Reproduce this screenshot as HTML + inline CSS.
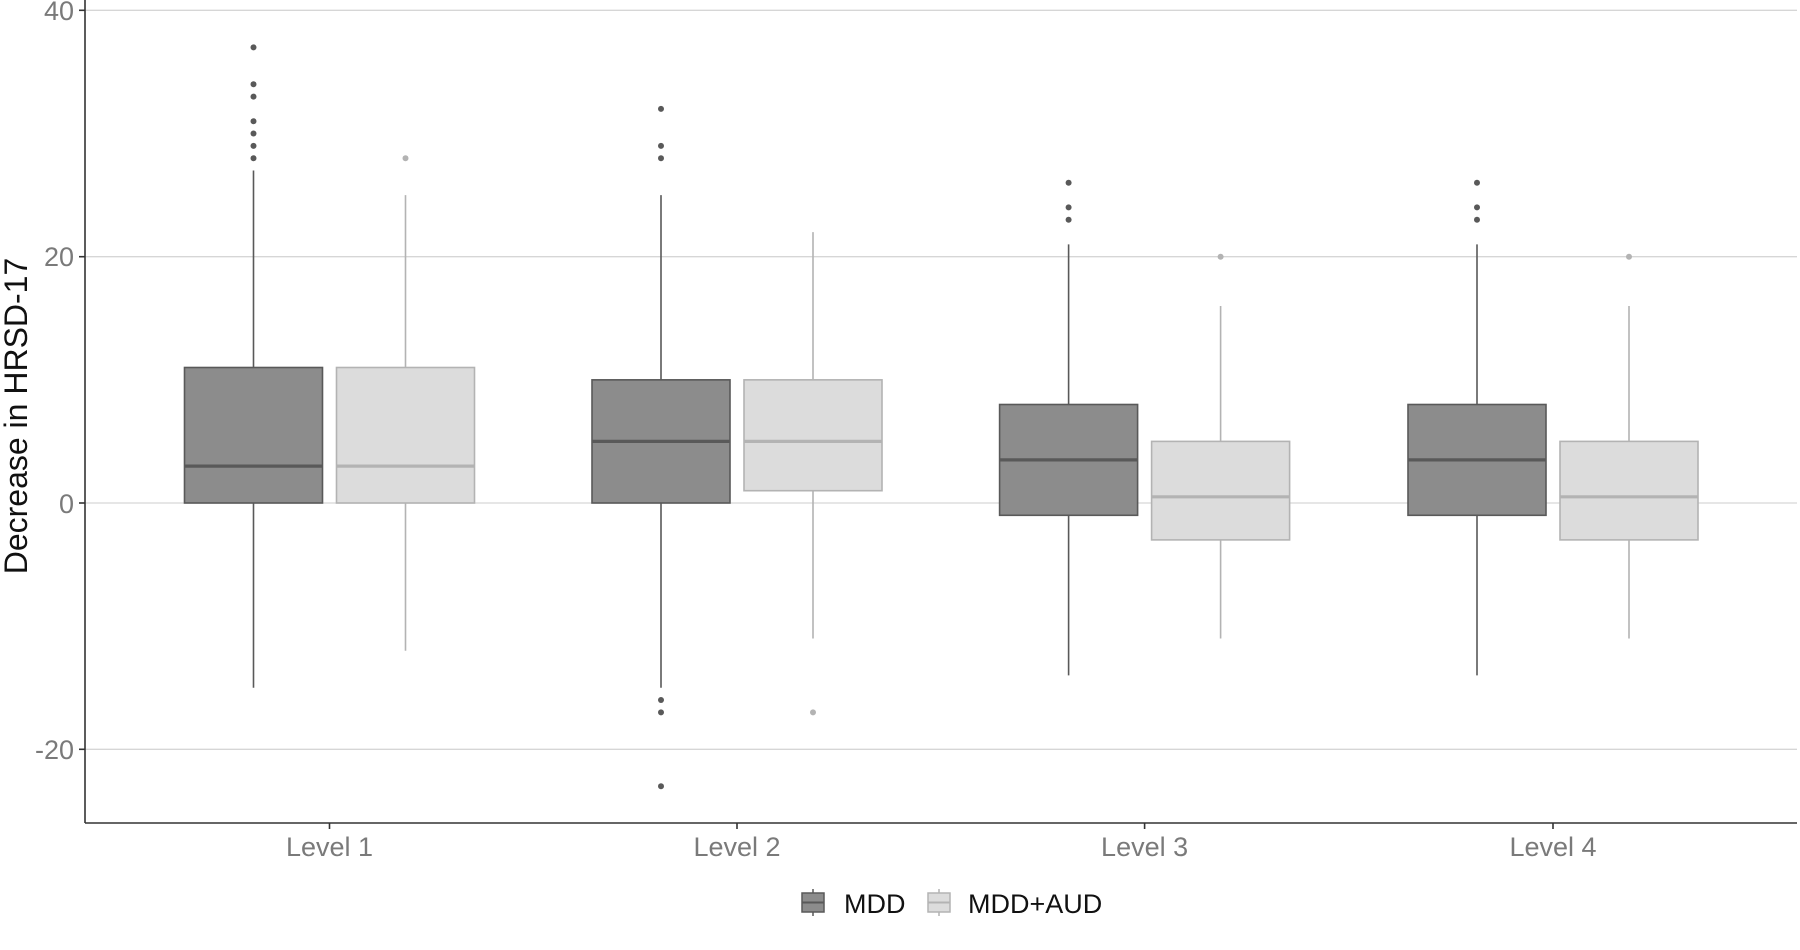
<!DOCTYPE html>
<html><head><meta charset="utf-8"><style>html,body{margin:0;padding:0;background:#fff}svg{display:block}</style></head>
<body>
<svg width="1800" height="950" xmlns="http://www.w3.org/2000/svg" font-family="Liberation Sans, sans-serif">
<g stroke="#d6d6d6" stroke-width="1.3">
<line x1="85" x2="1797" y1="10.3" y2="10.3"/>
<line x1="85" x2="1797" y1="256.7" y2="256.7"/>
<line x1="85" x2="1797" y1="503" y2="503"/>
<line x1="85" x2="1797" y1="749.3" y2="749.3"/>
</g>
<g stroke="#595959" stroke-width="1.6">
<line x1="253.5" x2="253.5" y1="170.5" y2="687.7"/>
<rect x="184.5" y="367.5" width="138" height="135.5" fill="#8c8c8c"/>
<line x1="184.5" x2="322.5" y1="466.1" y2="466.1" stroke-width="3.2"/>
</g>
<g fill="#595959"><circle cx="253.5" cy="47.35" r="3"/><circle cx="253.5" cy="84.3" r="3"/><circle cx="253.5" cy="96.6" r="3"/><circle cx="253.5" cy="121.2" r="3"/><circle cx="253.5" cy="133.55" r="3"/><circle cx="253.5" cy="145.9" r="3"/><circle cx="253.5" cy="158.2" r="3"/></g>
<g stroke="#b3b3b3" stroke-width="1.6">
<line x1="405.5" x2="405.5" y1="195.1" y2="650.8"/>
<rect x="336.5" y="367.5" width="138" height="135.5" fill="#dcdcdc"/>
<line x1="336.5" x2="474.5" y1="466.1" y2="466.1" stroke-width="3.2"/>
</g>
<circle cx="405.5" cy="158.2" r="3" fill="#b3b3b3"/>
<g stroke="#595959" stroke-width="1.6">
<line x1="661" x2="661" y1="195.1" y2="687.7"/>
<rect x="592" y="379.85" width="138" height="123.15" fill="#8c8c8c"/>
<line x1="592" x2="730" y1="441.4" y2="441.4" stroke-width="3.2"/>
</g>
<g fill="#595959"><circle cx="661" cy="108.9" r="3"/><circle cx="661" cy="145.9" r="3"/><circle cx="661" cy="158.2" r="3"/><circle cx="661" cy="700" r="3"/><circle cx="661" cy="712.4" r="3"/><circle cx="661" cy="786.2" r="3"/></g>
<g stroke="#b3b3b3" stroke-width="1.6">
<line x1="813" x2="813" y1="232.1" y2="638.5"/>
<rect x="744" y="379.85" width="138" height="110.85" fill="#dcdcdc"/>
<line x1="744" x2="882" y1="441.4" y2="441.4" stroke-width="3.2"/>
</g>
<circle cx="813" cy="712.4" r="3" fill="#b3b3b3"/>
<g stroke="#595959" stroke-width="1.6">
<line x1="1068.6" x2="1068.6" y1="244.4" y2="675.4"/>
<rect x="999.6" y="404.5" width="138" height="110.8" fill="#8c8c8c"/>
<line x1="999.6" x2="1137.6" y1="459.9" y2="459.9" stroke-width="3.2"/>
</g>
<g fill="#595959"><circle cx="1068.6" cy="182.8" r="3"/><circle cx="1068.6" cy="207.4" r="3"/><circle cx="1068.6" cy="219.8" r="3"/></g>
<g stroke="#b3b3b3" stroke-width="1.6">
<line x1="1220.6" x2="1220.6" y1="306" y2="638.5"/>
<rect x="1151.6" y="441.4" width="138" height="98.5" fill="#dcdcdc"/>
<line x1="1151.6" x2="1289.6" y1="496.8" y2="496.8" stroke-width="3.2"/>
</g>
<circle cx="1220.6" cy="256.7" r="3" fill="#b3b3b3"/>
<g stroke="#595959" stroke-width="1.6">
<line x1="1477" x2="1477" y1="244.4" y2="675.4"/>
<rect x="1408" y="404.5" width="138" height="110.8" fill="#8c8c8c"/>
<line x1="1408" x2="1546" y1="459.9" y2="459.9" stroke-width="3.2"/>
</g>
<g fill="#595959"><circle cx="1477" cy="182.8" r="3"/><circle cx="1477" cy="207.4" r="3"/><circle cx="1477" cy="219.8" r="3"/></g>
<g stroke="#b3b3b3" stroke-width="1.6">
<line x1="1629" x2="1629" y1="306" y2="638.5"/>
<rect x="1560" y="441.4" width="138" height="98.5" fill="#dcdcdc"/>
<line x1="1560" x2="1698" y1="496.8" y2="496.8" stroke-width="3.2"/>
</g>
<circle cx="1629" cy="256.7" r="3" fill="#b3b3b3"/>

<g stroke="#333" stroke-width="1.6">
<line x1="85" y1="0" x2="85" y2="823"/>
<line x1="85" y1="823" x2="1797" y2="823"/>
<line x1="79" x2="85" y1="10.3" y2="10.3"/><line x1="79" x2="85" y1="256.7" y2="256.7"/><line x1="79" x2="85" y1="503" y2="503"/><line x1="79" x2="85" y1="749.3" y2="749.3"/>
<line x1="329.5" x2="329.5" y1="823" y2="829"/><line x1="737" x2="737" y1="823" y2="829"/><line x1="1144.6" x2="1144.6" y1="823" y2="829"/><line x1="1553" x2="1553" y1="823" y2="829"/>
</g>
<g fill="#7a7a7a" font-size="27" text-anchor="end">
<text x="74" y="20">40</text><text x="74" y="266">20</text><text x="74" y="513">0</text><text x="74" y="759">-20</text>
</g>
<g fill="#7a7a7a" font-size="27" text-anchor="middle">
<text x="329.5" y="856">Level 1</text><text x="737" y="856">Level 2</text><text x="1144.6" y="856">Level 3</text><text x="1553" y="856">Level 4</text>
</g>
<text transform="translate(27,416) rotate(-90)" text-anchor="middle" font-size="32" fill="#111">Decrease in HRSD-17</text>
<g>
<line x1="813" x2="813" y1="889" y2="916" stroke="#595959" stroke-width="1.5"/>
<rect x="802" y="893" width="22" height="19" fill="#8c8c8c" stroke="#595959" stroke-width="1.5"/>
<line x1="802" x2="824" y1="902.5" y2="902.5" stroke="#595959" stroke-width="2"/>
<text x="844" y="913" font-size="27" fill="#111">MDD</text>
<line x1="939" x2="939" y1="889" y2="916" stroke="#b3b3b3" stroke-width="1.5"/>
<rect x="928" y="893" width="22" height="19" fill="#dcdcdc" stroke="#b3b3b3" stroke-width="1.5"/>
<line x1="928" x2="950" y1="902.5" y2="902.5" stroke="#b3b3b3" stroke-width="2"/>
<text x="968" y="913" font-size="27" fill="#111">MDD+AUD</text>
</g>
</svg>
</body></html>
